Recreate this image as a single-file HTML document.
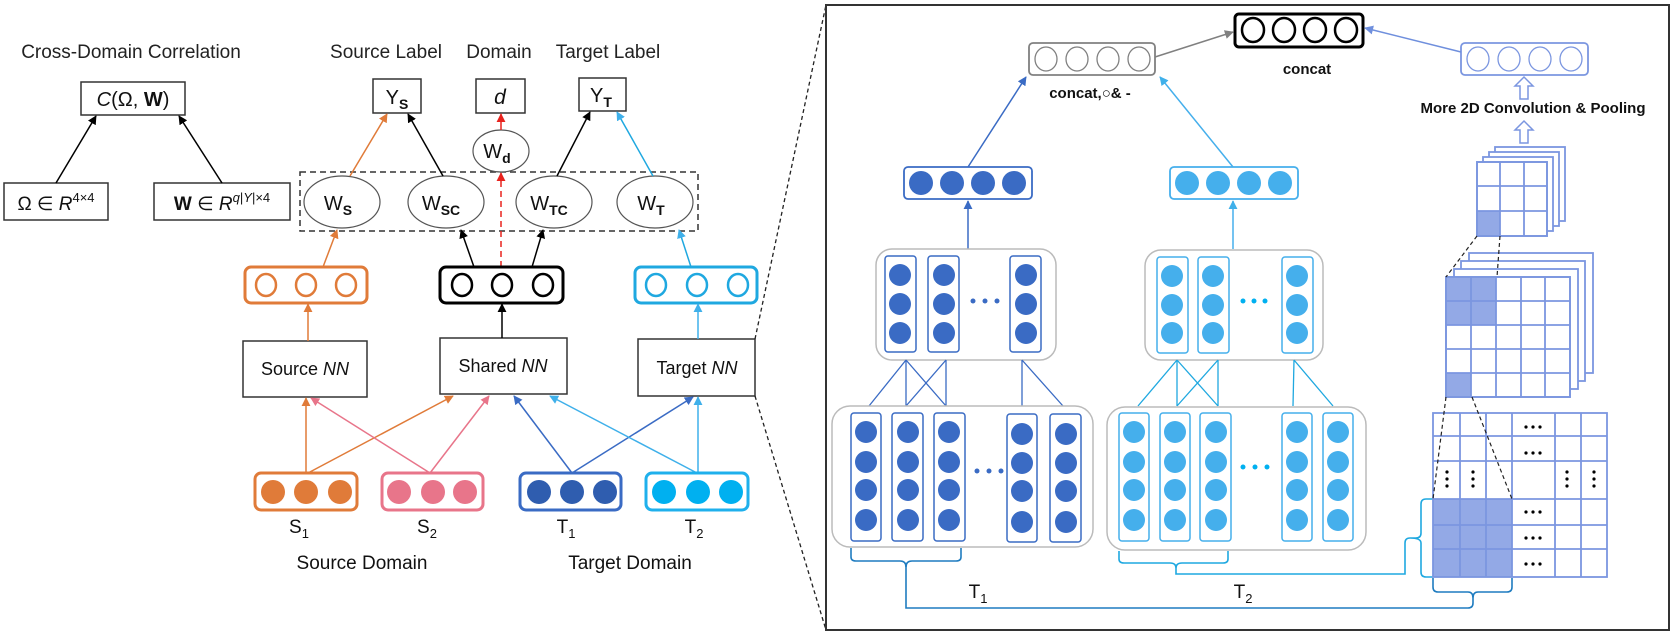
<!DOCTYPE html>
<html><head><meta charset="utf-8"><style>
html,body{margin:0;padding:0;background:#fff;}
svg{display:block;}
text{font-family:"Liberation Sans",sans-serif;}
</style></head><body>
<svg width="1673" height="634" viewBox="0 0 1673 634" xmlns="http://www.w3.org/2000/svg">
<defs>
<marker id="ak" viewBox="0 0 10 10" refX="9" refY="5" markerWidth="6" markerHeight="6" orient="auto"><path d="M0,0L10,5L0,10z" fill="#000"/></marker>
<marker id="ao" viewBox="0 0 10 10" refX="9" refY="5" markerWidth="6" markerHeight="6" orient="auto"><path d="M0,0L10,5L0,10z" fill="#E07B39"/></marker>
<marker id="ap" viewBox="0 0 10 10" refX="9" refY="5" markerWidth="6" markerHeight="6" orient="auto"><path d="M0,0L10,5L0,10z" fill="#E8758A"/></marker>
<marker id="ad" viewBox="0 0 10 10" refX="9" refY="5" markerWidth="6" markerHeight="6" orient="auto"><path d="M0,0L10,5L0,10z" fill="#3A6BC4"/></marker>
<marker id="al" viewBox="0 0 10 10" refX="9" refY="5" markerWidth="6" markerHeight="6" orient="auto"><path d="M0,0L10,5L0,10z" fill="#3FB0EA"/></marker>
<marker id="ar" viewBox="0 0 10 10" refX="9" refY="5" markerWidth="6" markerHeight="6" orient="auto"><path d="M0,0L10,5L0,10z" fill="#E8231E"/></marker>
<marker id="ag" viewBox="0 0 10 10" refX="9" refY="5" markerWidth="6" markerHeight="6" orient="auto"><path d="M0,0L10,5L0,10z" fill="#808080"/></marker>
<marker id="am" viewBox="0 0 10 10" refX="9" refY="5" markerWidth="6" markerHeight="6" orient="auto"><path d="M0,0L10,5L0,10z" fill="#6F8FDD"/></marker>
</defs>

<!-- LEFT PANEL -->
<g font-size="19" fill="#222" text-anchor="middle">
<text x="131" y="58">Cross-Domain Correlation</text>
<text x="386" y="58">Source Label</text>
<text x="499" y="58">Domain</text>
<text x="608" y="58">Target Label</text>
</g>
<g fill="#fff" stroke="#333" stroke-width="1.5">
<rect x="81" y="82" width="104" height="33"/>
<rect x="373" y="79" width="48" height="34"/>
<rect x="476" y="79" width="49" height="34"/>
<rect x="579" y="78" width="47" height="33"/>
<rect x="4" y="183" width="104" height="37"/>
<rect x="154" y="183" width="136" height="37"/>
</g>
<g font-family="Liberation Serif" fill="#111">
<text x="133" y="106" font-size="20" text-anchor="middle" font-family="Liberation Serif"><tspan font-style="italic">C</tspan>(Ω, <tspan font-weight="bold">W</tspan>)</text>
<text x="397" y="104" font-size="20" text-anchor="middle" font-family="Liberation Sans">Y<tspan font-size="14" dy="5" font-weight="bold">S</tspan></text>
<text x="500" y="104" font-size="21" text-anchor="middle" font-style="italic" font-family="Liberation Serif">d</text>
<text x="601" y="102" font-size="20" text-anchor="middle" font-family="Liberation Sans">Y<tspan font-size="14" dy="5" font-weight="bold">T</tspan></text>
<text x="56" y="210" font-size="19" text-anchor="middle" font-family="Liberation Serif">Ω ∈ <tspan font-style="italic">R</tspan><tspan font-size="13" dy="-8">4×4</tspan></text>
<text x="222" y="210" font-size="19" text-anchor="middle" font-family="Liberation Serif"><tspan font-weight="bold">W</tspan> ∈ <tspan font-style="italic">R</tspan><tspan font-size="13" dy="-8" font-style="italic">q</tspan><tspan font-size="13">|</tspan><tspan font-size="13" font-style="italic">Y</tspan><tspan font-size="13">|×4</tspan></text>
</g>
<line x1="56" y1="183" x2="96" y2="116" stroke="#000" stroke-width="1.5" marker-end="url(#ak)"/>
<line x1="222" y1="183" x2="179" y2="116" stroke="#000" stroke-width="1.5" marker-end="url(#ak)"/>

<rect x="300" y="172" width="398" height="59" fill="none" stroke="#333" stroke-width="1.5" stroke-dasharray="6,4"/>
<g fill="#fff" stroke="#555" stroke-width="1.2">
<ellipse cx="342" cy="202" rx="38" ry="26"/>
<ellipse cx="446" cy="202" rx="38" ry="26"/>
<ellipse cx="554" cy="202" rx="38" ry="26"/>
<ellipse cx="655" cy="202" rx="38" ry="26"/>
<ellipse cx="501" cy="151" rx="28" ry="21"/>
</g>
<g font-size="20" fill="#111" text-anchor="middle">
<text x="338" y="210">W<tspan font-size="14" dy="5" font-weight="bold">S</tspan></text>
<text x="441" y="210">W<tspan font-size="14" dy="5" font-weight="bold">SC</tspan></text>
<text x="549" y="210">W<tspan font-size="14" dy="5" font-weight="bold">TC</tspan></text>
<text x="651" y="210">W<tspan font-size="14" dy="5" font-weight="bold">T</tspan></text>
<text x="497" y="158">W<tspan font-size="14" dy="5" font-weight="bold">d</tspan></text>
</g>
<line x1="350" y1="176" x2="387" y2="114" stroke="#E07B39" stroke-width="1.5" marker-end="url(#ao)"/>
<line x1="443" y1="176" x2="408" y2="114" stroke="#000" stroke-width="1.5" marker-end="url(#ak)"/>
<line x1="557" y1="176" x2="590" y2="112" stroke="#000" stroke-width="1.5" marker-end="url(#ak)"/>
<line x1="653" y1="176" x2="617" y2="112" stroke="#1FA8E0" stroke-width="1.5" marker-end="url(#al)"/>
<line x1="501" y1="130" x2="501" y2="114" stroke="#E8231E" stroke-width="1.5" marker-end="url(#ar)"/>
<line x1="501" y1="267" x2="501" y2="173" stroke="#E8231E" stroke-width="1.5" stroke-dasharray="6,4" marker-end="url(#ar)"/>

<!-- hidden boxes -->
<rect x="245" y="267" width="122" height="36" rx="6" fill="none" stroke="#E07B39" stroke-width="3"/>
<g fill="none" stroke="#E07B39" stroke-width="2.5"><ellipse cx="266" cy="285" rx="10" ry="11"/><ellipse cx="306" cy="285" rx="10" ry="11"/><ellipse cx="346" cy="285" rx="10" ry="11"/></g>
<rect x="440" y="267" width="123" height="36" rx="6" fill="none" stroke="#000" stroke-width="3"/>
<g fill="none" stroke="#000" stroke-width="2.5"><ellipse cx="462" cy="285" rx="10" ry="11"/><ellipse cx="502" cy="285" rx="10" ry="11"/><ellipse cx="543" cy="285" rx="10" ry="11"/></g>
<rect x="635" y="267" width="122" height="36" rx="6" fill="none" stroke="#1FA8E0" stroke-width="3"/>
<g fill="none" stroke="#1FA8E0" stroke-width="2.5"><ellipse cx="656" cy="285" rx="10" ry="11"/><ellipse cx="697" cy="285" rx="10" ry="11"/><ellipse cx="738" cy="285" rx="10" ry="11"/></g>
<line x1="323" y1="267" x2="337" y2="230" stroke="#E07B39" stroke-width="1.5" marker-end="url(#ao)"/>
<line x1="474" y1="267" x2="461" y2="230" stroke="#000" stroke-width="1.5" marker-end="url(#ak)"/>
<line x1="532" y1="267" x2="543" y2="230" stroke="#000" stroke-width="1.5" marker-end="url(#ak)"/>
<line x1="691" y1="267" x2="679" y2="230" stroke="#1FA8E0" stroke-width="1.5" marker-end="url(#al)"/>

<!-- NN boxes -->
<g fill="#fff" stroke="#333" stroke-width="1.5">
<rect x="243" y="341" width="124" height="56"/>
<rect x="440" y="338" width="127" height="56"/>
<rect x="638" y="339" width="117" height="57"/>
</g>
<g font-size="18" fill="#111" text-anchor="middle">
<text x="305" y="375">Source <tspan font-style="italic">NN</tspan></text>
<text x="503" y="372">Shared <tspan font-style="italic">NN</tspan></text>
<text x="697" y="374">Target <tspan font-style="italic">NN</tspan></text>
</g>
<line x1="308" y1="341" x2="308" y2="304" stroke="#E07B39" stroke-width="1.5" marker-end="url(#ao)"/>
<line x1="502" y1="338" x2="502" y2="304" stroke="#000" stroke-width="1.5" marker-end="url(#ak)"/>
<line x1="698" y1="339" x2="698" y2="304" stroke="#3FB0EA" stroke-width="1.5" marker-end="url(#al)"/>

<!-- inputs -->
<line x1="306" y1="473" x2="306" y2="398" stroke="#E07B39" stroke-width="1.5" marker-end="url(#ao)"/>
<line x1="308" y1="473" x2="453" y2="396" stroke="#E07B39" stroke-width="1.5" marker-end="url(#ao)"/>
<line x1="430" y1="473" x2="311" y2="398" stroke="#E8758A" stroke-width="1.5" marker-end="url(#ap)"/>
<line x1="430" y1="473" x2="489" y2="396" stroke="#E8758A" stroke-width="1.5" marker-end="url(#ap)"/>
<line x1="572" y1="473" x2="514" y2="396" stroke="#3A6BC4" stroke-width="1.5" marker-end="url(#ad)"/>
<line x1="572" y1="473" x2="693" y2="397" stroke="#3A6BC4" stroke-width="1.5" marker-end="url(#ad)"/>
<line x1="697" y1="473" x2="550" y2="396" stroke="#3FB0EA" stroke-width="1.5" marker-end="url(#al)"/>
<line x1="698" y1="473" x2="698" y2="397" stroke="#3FB0EA" stroke-width="1.5" marker-end="url(#al)"/>

<rect x="255" y="473" width="102" height="37" rx="6" fill="#fff" stroke="#E07B39" stroke-width="3"/>
<g fill="#E07B39"><circle cx="273" cy="492" r="12"/><circle cx="306" cy="492" r="12"/><circle cx="340" cy="492" r="12"/></g>
<rect x="382" y="473" width="101" height="37" rx="6" fill="#fff" stroke="#E8758A" stroke-width="3"/>
<g fill="#E8758A"><circle cx="399" cy="492" r="12"/><circle cx="433" cy="492" r="12"/><circle cx="465" cy="492" r="12"/></g>
<rect x="520" y="473" width="101" height="37" rx="6" fill="#fff" stroke="#3A6BC4" stroke-width="3"/>
<g fill="#2F5DAF"><circle cx="539" cy="492" r="12"/><circle cx="572" cy="492" r="12"/><circle cx="605" cy="492" r="12"/></g>
<rect x="646" y="473" width="102" height="37" rx="6" fill="#fff" stroke="#1FB0EC" stroke-width="3"/>
<g fill="#00B0F0"><circle cx="664" cy="492" r="12"/><circle cx="698" cy="492" r="12"/><circle cx="731" cy="492" r="12"/></g>
<g font-size="19" fill="#111" text-anchor="middle">
<text x="299" y="533">S<tspan font-size="13" dy="5">1</tspan></text>
<text x="427" y="533">S<tspan font-size="13" dy="5">2</tspan></text>
<text x="566" y="533">T<tspan font-size="13" dy="5">1</tspan></text>
<text x="694" y="533">T<tspan font-size="13" dy="5">2</tspan></text>
<text x="362" y="569">Source Domain</text>
<text x="630" y="569">Target Domain</text>
</g>

<!-- zoom dashed -->
<line x1="755" y1="339" x2="826" y2="5" stroke="#222" stroke-width="1.3" stroke-dasharray="4,3"/>
<line x1="755" y1="396" x2="826" y2="630" stroke="#222" stroke-width="1.3" stroke-dasharray="4,3"/>

<!-- RIGHT PANEL -->
<rect x="826" y="5" width="843" height="625" fill="none" stroke="#333" stroke-width="2"/>

<rect x="1235" y="14" width="128" height="33" rx="4" fill="#fff" stroke="#000" stroke-width="3"/>
<g fill="none" stroke="#000" stroke-width="2.5"><ellipse cx="1253" cy="30" rx="11" ry="12"/><ellipse cx="1284" cy="30" rx="11" ry="12"/><ellipse cx="1315" cy="30" rx="11" ry="12"/><ellipse cx="1346" cy="30" rx="11" ry="12"/></g>
<rect x="1029" y="43" width="126" height="32" rx="4" fill="#fff" stroke="#808080" stroke-width="1.8"/>
<g fill="none" stroke="#808080" stroke-width="1.3"><ellipse cx="1046" cy="59" rx="11" ry="12"/><ellipse cx="1077" cy="59" rx="11" ry="12"/><ellipse cx="1108" cy="59" rx="11" ry="12"/><ellipse cx="1139" cy="59" rx="11" ry="12"/></g>
<rect x="1461" y="43" width="127" height="32" rx="4" fill="#fff" stroke="#7B96E0" stroke-width="1.8"/>
<g fill="none" stroke="#7B96E0" stroke-width="1.3"><ellipse cx="1478" cy="59" rx="11" ry="12"/><ellipse cx="1509" cy="59" rx="11" ry="12"/><ellipse cx="1540" cy="59" rx="11" ry="12"/><ellipse cx="1571" cy="59" rx="11" ry="12"/></g>
<line x1="1155" y1="57" x2="1233" y2="32" stroke="#808080" stroke-width="1.5" marker-end="url(#ag)"/>
<line x1="1461" y1="52" x2="1365" y2="28" stroke="#6F8FDD" stroke-width="1.5" marker-end="url(#am)"/>
<g font-size="15" font-weight="bold" fill="#111" text-anchor="middle">
<text x="1307" y="74">concat</text>
<text x="1090" y="98">concat,○&amp; -</text>
<text x="1533" y="113">More 2D Convolution &amp; Pooling</text>
</g>
<!-- hollow arrows -->
<g fill="#fff" stroke="#7B96E0" stroke-width="1.5">
<path d="M1520,99 L1520,86 L1515,86 L1524,77 L1533,86 L1528,86 L1528,99 Z"/>
<path d="M1520,143 L1520,130 L1515,130 L1524,121 L1533,130 L1528,130 L1528,143 Z"/>
</g>

<!-- 4-circle boxes -->
<rect x="904" y="167" width="128" height="32" rx="4" fill="#fff" stroke="#3A6BC4" stroke-width="1.8"/>
<g fill="#3A6BC4"><circle cx="921" cy="183" r="12"/><circle cx="952" cy="183" r="12"/><circle cx="983" cy="183" r="12"/><circle cx="1014" cy="183" r="12"/></g>
<rect x="1170" y="167" width="128" height="32" rx="4" fill="#fff" stroke="#45AFEC" stroke-width="1.8"/>
<g fill="#45AFEC"><circle cx="1187" cy="183" r="12"/><circle cx="1218" cy="183" r="12"/><circle cx="1249" cy="183" r="12"/><circle cx="1280" cy="183" r="12"/></g>
<line x1="968" y1="167" x2="1026" y2="77" stroke="#3A6BC4" stroke-width="1.5" marker-end="url(#ad)"/>
<line x1="1233" y1="167" x2="1160" y2="77" stroke="#45AFEC" stroke-width="1.5" marker-end="url(#al)"/>
<line x1="968" y1="249" x2="968" y2="201" stroke="#3A6BC4" stroke-width="1.5" marker-end="url(#ad)"/>
<line x1="1233" y1="249" x2="1233" y2="201" stroke="#45AFEC" stroke-width="1.5" marker-end="url(#al)"/>

<!-- dark middle group -->
<rect x="876" y="249" width="180" height="111" rx="16" fill="#fff" stroke="#bbb" stroke-width="1.5"/>
<g fill="none" stroke="#3A6BC4" stroke-width="1.5">
<rect x="885" y="256" width="31" height="96" rx="3"/><rect x="928" y="256" width="31" height="96" rx="3"/><rect x="1010" y="256" width="31" height="96" rx="3"/>
</g>
<g fill="#3A6BC4">
<circle cx="900" cy="275" r="11"/><circle cx="900" cy="304" r="11"/><circle cx="900" cy="333" r="11"/>
<circle cx="944" cy="275" r="11"/><circle cx="944" cy="304" r="11"/><circle cx="944" cy="333" r="11"/>
<circle cx="1026" cy="275" r="11"/><circle cx="1026" cy="304" r="11"/><circle cx="1026" cy="333" r="11"/>
<circle cx="973" cy="301" r="2.5"/><circle cx="985" cy="301" r="2.5"/><circle cx="997" cy="301" r="2.5"/>
</g>
<!-- light middle group -->
<rect x="1145" y="250" width="178" height="110" rx="16" fill="#fff" stroke="#bbb" stroke-width="1.5"/>
<g fill="none" stroke="#45AFEC" stroke-width="1.5">
<rect x="1157" y="257" width="31" height="96" rx="3"/><rect x="1198" y="257" width="31" height="96" rx="3"/><rect x="1282" y="257" width="31" height="96" rx="3"/>
</g>
<g fill="#45AFEC">
<circle cx="1172" cy="276" r="11"/><circle cx="1172" cy="305" r="11"/><circle cx="1172" cy="333" r="11"/>
<circle cx="1213" cy="276" r="11"/><circle cx="1213" cy="305" r="11"/><circle cx="1213" cy="333" r="11"/>
<circle cx="1297" cy="276" r="11"/><circle cx="1297" cy="305" r="11"/><circle cx="1297" cy="333" r="11"/>
</g>
<g fill="#00B0F0"><circle cx="1243" cy="301" r="2.5"/><circle cx="1254" cy="301" r="2.5"/><circle cx="1265" cy="301" r="2.5"/></g>

<!-- connections -->
<g stroke="#3A6BC4" stroke-width="1.3">
<line x1="906" y1="360" x2="869" y2="406"/><line x1="906" y1="360" x2="906" y2="406"/><line x1="906" y1="360" x2="946" y2="406"/>
<line x1="946" y1="360" x2="906" y2="406"/><line x1="946" y1="360" x2="946" y2="406"/>
<line x1="1022" y1="360" x2="1022" y2="406"/><line x1="1022" y1="360" x2="1063" y2="406"/>
</g>
<g stroke="#1FA8E0" stroke-width="1.3">
<line x1="1177" y1="360" x2="1138" y2="406"/><line x1="1177" y1="360" x2="1177" y2="406"/><line x1="1177" y1="360" x2="1218" y2="406"/>
<line x1="1218" y1="360" x2="1177" y2="406"/><line x1="1218" y1="360" x2="1218" y2="406"/>
<line x1="1294" y1="360" x2="1293" y2="406"/><line x1="1294" y1="360" x2="1333" y2="406"/>
</g>

<!-- dark bottom group -->
<rect x="832" y="406" width="261" height="141" rx="18" fill="#fff" stroke="#bbb" stroke-width="1.5"/>
<g fill="none" stroke="#3A6BC4" stroke-width="1.5">
<rect x="851" y="413" width="30" height="128" rx="3"/><rect x="892" y="413" width="31" height="128" rx="3"/><rect x="934" y="413" width="31" height="128" rx="3"/><rect x="1007" y="414" width="30" height="128" rx="3"/><rect x="1050" y="414" width="31" height="128" rx="3"/>
</g>
<g fill="#3A6BC4">
<circle cx="866" cy="432" r="11"/><circle cx="866" cy="462" r="11"/><circle cx="866" cy="490" r="11"/><circle cx="866" cy="520" r="11"/>
<circle cx="908" cy="432" r="11"/><circle cx="908" cy="462" r="11"/><circle cx="908" cy="490" r="11"/><circle cx="908" cy="520" r="11"/>
<circle cx="949" cy="432" r="11"/><circle cx="949" cy="462" r="11"/><circle cx="949" cy="490" r="11"/><circle cx="949" cy="520" r="11"/>
<circle cx="1022" cy="434" r="11"/><circle cx="1022" cy="463" r="11"/><circle cx="1022" cy="491" r="11"/><circle cx="1022" cy="522" r="11"/>
<circle cx="1066" cy="434" r="11"/><circle cx="1066" cy="463" r="11"/><circle cx="1066" cy="491" r="11"/><circle cx="1066" cy="522" r="11"/>
<circle cx="977" cy="471" r="2.5"/><circle cx="989" cy="471" r="2.5"/><circle cx="1001" cy="471" r="2.5"/>
</g>
<!-- light bottom group -->
<rect x="1107" y="407" width="259" height="143" rx="18" fill="#fff" stroke="#bbb" stroke-width="1.5"/>
<g fill="none" stroke="#45AFEC" stroke-width="1.5">
<rect x="1119" y="413" width="30" height="128" rx="3"/><rect x="1160" y="413" width="30" height="128" rx="3"/><rect x="1200" y="413" width="31" height="128" rx="3"/><rect x="1282" y="413" width="30" height="128" rx="3"/><rect x="1323" y="413" width="30" height="128" rx="3"/>
</g>
<g fill="#45AFEC">
<circle cx="1134" cy="432" r="11"/><circle cx="1134" cy="462" r="11"/><circle cx="1134" cy="490" r="11"/><circle cx="1134" cy="520" r="11"/>
<circle cx="1175" cy="432" r="11"/><circle cx="1175" cy="462" r="11"/><circle cx="1175" cy="490" r="11"/><circle cx="1175" cy="520" r="11"/>
<circle cx="1216" cy="432" r="11"/><circle cx="1216" cy="462" r="11"/><circle cx="1216" cy="490" r="11"/><circle cx="1216" cy="520" r="11"/>
<circle cx="1297" cy="432" r="11"/><circle cx="1297" cy="462" r="11"/><circle cx="1297" cy="490" r="11"/><circle cx="1297" cy="520" r="11"/>
<circle cx="1338" cy="432" r="11"/><circle cx="1338" cy="462" r="11"/><circle cx="1338" cy="490" r="11"/><circle cx="1338" cy="520" r="11"/>
</g>
<g fill="#00B0F0"><circle cx="1243" cy="467" r="2.5"/><circle cx="1255" cy="467" r="2.5"/><circle cx="1267" cy="467" r="2.5"/></g>

<!-- braces and connectors -->
<path d="M851,548 L851,557 Q851,561 856,561 L900,561 Q906,561 906,567 L906,608 L1468,608 Q1473,608 1473,603 L1473,598 Q1473,592 1478,592 L1507,592 Q1512,592 1512,587 L1512,578 M1473,598 Q1473,592 1468,592 L1438,592 Q1433,592 1433,587 L1433,578" fill="none" stroke="#1F7CC0" stroke-width="1.6"/>
<path d="M906,567 Q906,561 912,561 L956,561 Q961,561 961,557 L961,548" fill="none" stroke="#1F7CC0" stroke-width="1.6"/>
<path d="M1119,551 L1119,559 Q1119,563 1124,563 L1170,563 Q1176,563 1176,568 L1176,574 L1405,574 L1405,543 Q1405,538 1410,538 L1416,538 Q1421,538 1421,533 L1421,504 Q1421,499 1426,499 L1433,499 M1410,538 Q1421,538 1421,543 L1421,572 Q1421,577 1426,577 L1433,577 M1176,568 Q1176,563 1182,563 L1223,563 Q1228,563 1228,559 L1228,551" fill="none" stroke="#1FA8E0" stroke-width="1.6"/>
<g font-size="19" fill="#111" text-anchor="middle">
<text x="978" y="598">T<tspan font-size="13" dy="5">1</tspan></text>
<text x="1243" y="598">T<tspan font-size="13" dy="5">2</tspan></text>
</g>

<!-- matrices -->
<g fill="#fff" stroke="#7B96E0" stroke-width="1.8">
<rect x="1495" y="147" width="70" height="74"/>
<rect x="1489" y="152" width="70" height="74"/>
<rect x="1483" y="157" width="70" height="74"/>
<rect x="1477" y="162" width="70" height="74"/>
</g>
<rect x="1477" y="211" width="23" height="25" fill="#93A9E6"/>
<g fill="none" stroke="#7B96E0" stroke-width="1.8">
<rect x="1477" y="162" width="70" height="74"/>
<line x1="1500" y1="162" x2="1500" y2="236"/><line x1="1524" y1="162" x2="1524" y2="236"/>
<line x1="1477" y1="186" x2="1547" y2="186"/><line x1="1477" y1="211" x2="1547" y2="211"/>
</g>
<g fill="#fff" stroke="#7B96E0" stroke-width="1.8">
<rect x="1469" y="253" width="124" height="120"/>
<rect x="1461" y="261" width="124" height="120"/>
<rect x="1454" y="269" width="124" height="120"/>
<rect x="1446" y="277" width="124" height="120"/>
</g>
<rect x="1446" y="277" width="50" height="48" fill="#93A9E6"/>
<rect x="1446" y="373" width="25" height="24" fill="#93A9E6"/>
<g fill="none" stroke="#7B96E0" stroke-width="1.8">
<rect x="1446" y="277" width="124" height="120"/>
<line x1="1471" y1="277" x2="1471" y2="397"/><line x1="1496" y1="277" x2="1496" y2="397"/><line x1="1521" y1="277" x2="1521" y2="397"/><line x1="1545" y1="277" x2="1545" y2="397"/>
<line x1="1446" y1="301" x2="1570" y2="301"/><line x1="1446" y1="325" x2="1570" y2="325"/><line x1="1446" y1="349" x2="1570" y2="349"/><line x1="1446" y1="373" x2="1570" y2="373"/>
</g>
<rect x="1433" y="499" width="79" height="78" fill="#93A9E6"/>
<g fill="none" stroke="#7B96E0" stroke-width="1.8">
<rect x="1433" y="413" width="174" height="164"/>
<line x1="1460" y1="413" x2="1460" y2="577"/><line x1="1486" y1="413" x2="1486" y2="577"/><line x1="1512" y1="413" x2="1512" y2="577"/><line x1="1555" y1="413" x2="1555" y2="577"/><line x1="1581" y1="413" x2="1581" y2="577"/>
<line x1="1433" y1="436" x2="1607" y2="436"/><line x1="1433" y1="461" x2="1607" y2="461"/><line x1="1433" y1="499" x2="1607" y2="499"/><line x1="1433" y1="525" x2="1607" y2="525"/><line x1="1433" y1="549" x2="1607" y2="549"/>
</g>
<g fill="#000">
<circle cx="1526" cy="427" r="1.6"/><circle cx="1533" cy="427" r="1.6"/><circle cx="1540" cy="427" r="1.6"/>
<circle cx="1526" cy="453" r="1.6"/><circle cx="1533" cy="453" r="1.6"/><circle cx="1540" cy="453" r="1.6"/>
<circle cx="1526" cy="512" r="1.6"/><circle cx="1533" cy="512" r="1.6"/><circle cx="1540" cy="512" r="1.6"/>
<circle cx="1526" cy="538" r="1.6"/><circle cx="1533" cy="538" r="1.6"/><circle cx="1540" cy="538" r="1.6"/>
<circle cx="1526" cy="564" r="1.6"/><circle cx="1533" cy="564" r="1.6"/><circle cx="1540" cy="564" r="1.6"/>
<circle cx="1447" cy="472" r="1.6"/><circle cx="1447" cy="479" r="1.6"/><circle cx="1447" cy="486" r="1.6"/>
<circle cx="1473" cy="472" r="1.6"/><circle cx="1473" cy="479" r="1.6"/><circle cx="1473" cy="486" r="1.6"/>
<circle cx="1567" cy="472" r="1.6"/><circle cx="1567" cy="479" r="1.6"/><circle cx="1567" cy="486" r="1.6"/>
<circle cx="1594" cy="472" r="1.6"/><circle cx="1594" cy="479" r="1.6"/><circle cx="1594" cy="486" r="1.6"/>
</g>
<g stroke="#222" stroke-width="1.2" stroke-dasharray="4,3">
<line x1="1477" y1="236" x2="1446" y2="277"/><line x1="1500" y1="236" x2="1497" y2="277"/>
<line x1="1446" y1="397" x2="1433" y2="499"/><line x1="1472" y1="397" x2="1512" y2="499"/>
</g>
</svg>
</body></html>
